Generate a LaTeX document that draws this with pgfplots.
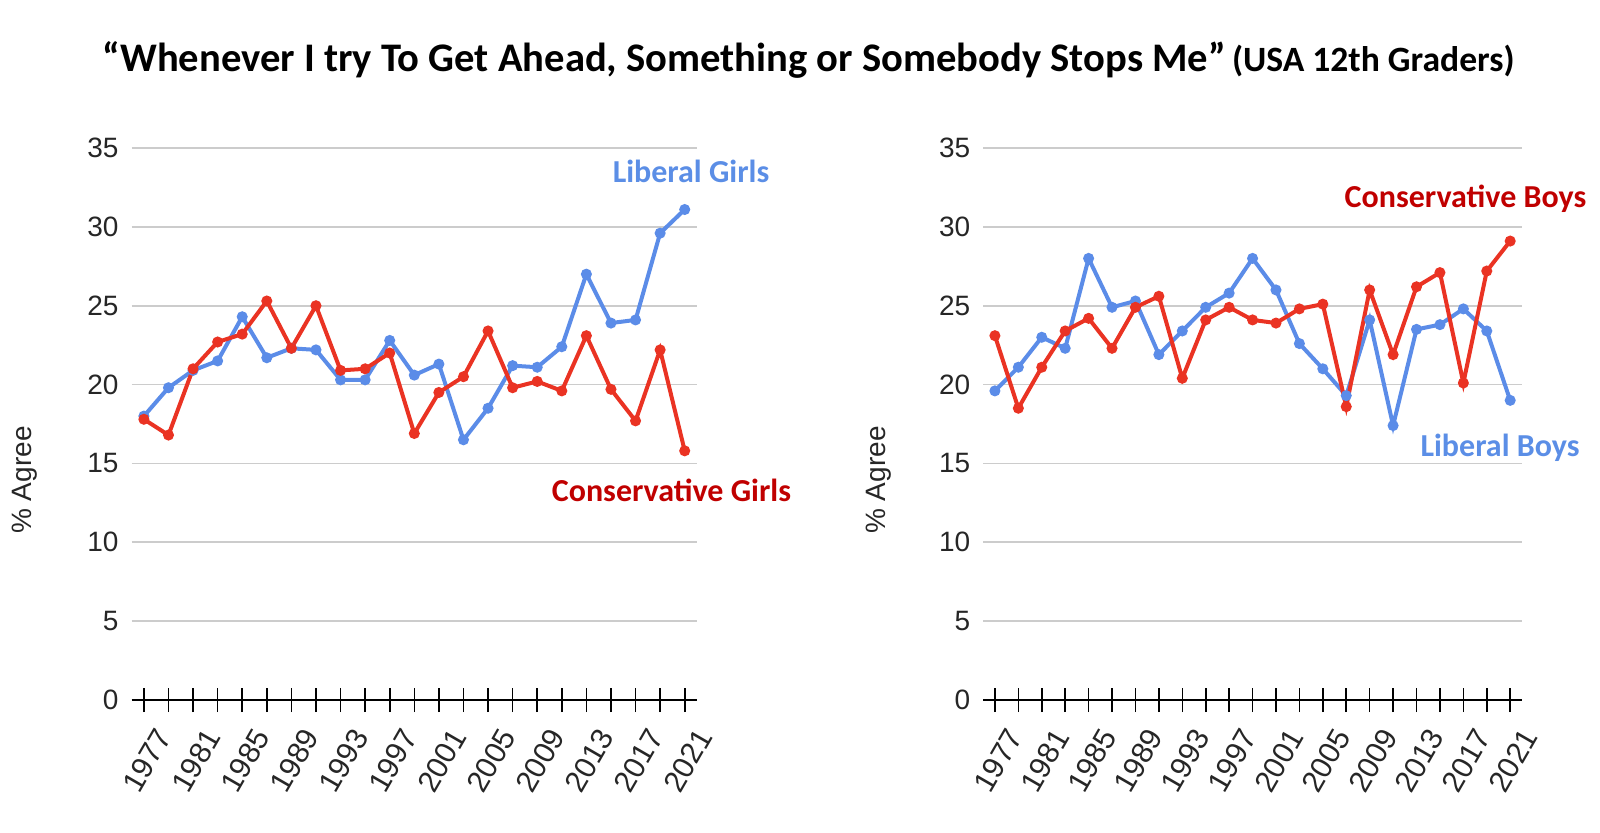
\documentclass[border=0pt]{standalone}
\usepackage{pgfplots}
\usepackage{pgfplotstable}
\pgfplotsset{compat=1.18}
\usepackage{fontspec}
\setmainfont{Liberation Sans}
\newfontfamily\carlito{Carlito}

\definecolor{libblue}{HTML}{5B8CE8}
\definecolor{conred}{HTML}{EA3323}
\definecolor{labblue}{HTML}{5B8EE6}
\definecolor{labred}{HTML}{C00000}
\definecolor{gridgray}{HTML}{CCCCCC}

% year, liberal, conservative (percent agreeing)
\pgfplotstableread{
year lib con
1977 18.0 17.8
1979 19.8 16.8
1981 20.9 21.0
1983 21.5 22.7
1985 24.3 23.2
1987 21.7 25.3
1989 22.3 22.3
1991 22.2 25.0
1993 20.3 20.9
1995 20.3 21.0
1997 22.8 22.0
1999 20.6 16.9
2001 21.3 19.5
2003 16.5 20.5
2005 18.5 23.4
2007 21.2 19.8
2009 21.1 20.2
2011 22.4 19.6
2013 27.0 23.1
2015 23.9 19.7
2017 24.1 17.7
2019 29.6 22.2
2021 31.1 15.8
}\girls

\pgfplotstableread{
year lib con
1977 19.6 23.1
1979 21.1 18.5
1981 23.0 21.1
1983 22.3 23.4
1985 28.0 24.2
1987 24.9 22.3
1989 25.3 24.9
1991 21.9 25.6
1993 23.4 20.4
1995 24.9 24.1
1997 25.8 24.9
1999 28.0 24.1
2001 26.0 23.9
2003 22.6 24.8
2005 21.0 25.1
2007 19.3 18.6
2009 24.1 26.0
2011 17.4 21.9
2013 23.5 26.2
2015 23.8 27.1
2017 24.8 20.1
2019 23.4 27.2
2021 19.0 29.1
}\boys

\pgfplotsset{
  panel/.style={
    scale only axis,
    height=276pt,
    xmin=1976, xmax=2022,
    ymin=0, ymax=35,
    clip=false,
    axis x line*=bottom,
    axis y line*=left,
    x axis line style={black, line width=1pt},
    y axis line style={draw=none},
    xtick={1977,1981,...,2021},
    minor xtick={1979,1983,...,2019},
    xticklabel={\pgfmathprintnumber[fixed, 1000 sep={}]{\tick}},
    xtick align=center,
    major tick length=12pt,
    minor tick length=12pt,
    xtick style={black, line width=0.8pt},
    minor tick style={black, line width=0.8pt},
    ytick={0,5,...,35},
    ymajorgrids,
    grid style={gridgray, line width=0.8pt},
    ytick style={draw=none},
    /pgf/number format/assume math mode=true,
    tick label style={font=\fontsize{14}{16}\selectfont, text=black!85},
    yticklabel style={anchor=east, xshift=-3pt},
    xticklabel style={font=\fontsize{15}{17}\selectfont, rotate=60, anchor=east, yshift=-13.5pt, xshift=0pt},
    every axis plot/.append style={line width=2pt, mark=*, mark size=1.7pt},
  }
}

\begin{document}
\begin{tikzpicture}
\path[use as bounding box] (0,0) rectangle (800pt,416pt);

% title
\node[anchor=base west, inner sep=0] at (51pt,380.15pt)
  {\carlito\bfseries\fontsize{20.3}{24}\selectfont “Whenever I try To Get Ahead, Something or Somebody Stops Me”};
\node[anchor=base east, inner sep=0] at (757.5pt,380.15pt)
  {\carlito\bfseries\fontsize{17.8}{21}\selectfont (USA 12th Graders)};

% girls
\begin{axis}[panel, width=282.7pt, at={(65.8pt,66pt)}, anchor=south west]
\addplot[libblue, mark options={fill=libblue}] table[x=year, y=lib] {\girls};
\addplot[conred, mark options={fill=conred}] table[x=year, y=con] {\girls};
\end{axis}

% boys
\begin{axis}[panel, width=269.35pt, at={(491.6pt,66pt)}, anchor=south west]
\addplot[libblue, mark options={fill=libblue}] table[x=year, y=lib] {\boys};
\addplot[conred, mark options={fill=conred}] table[x=year, y=con] {\boys};
\end{axis}

% axis titles
\node[rotate=90, font=\fontsize{14}{16}\selectfont, text=black!85] at (12.5pt,176pt) {\% Agree};
\node[rotate=90, font=\fontsize{14}{16}\selectfont, text=black!85] at (439.5pt,176pt) {\% Agree};

% series names
\begin{scope}[every node/.style={inner sep=0, font=\carlito\bfseries\fontsize{16}{19}\selectfont}]
\node[anchor=base, text=labblue] at (345.5pt,324.6pt) {Liberal Girls};
\node[anchor=base, text=labred] at (335.75pt,165.1pt) {Conservative Girls};
\node[anchor=base, text=labred] at (732.75pt,312.4pt) {Conservative Boys};
\node[anchor=base, text=labblue] at (750pt,188pt) {Liberal Boys};
\end{scope}
\end{tikzpicture}
\end{document}
